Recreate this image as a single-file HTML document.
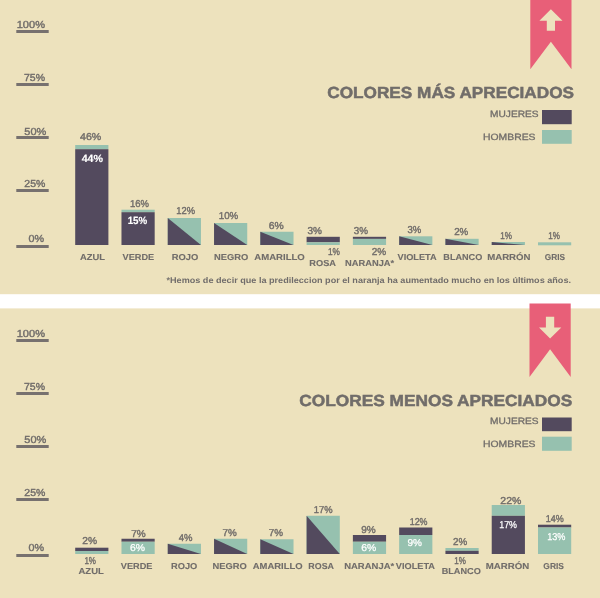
<!DOCTYPE html>
<html lang="es"><head><meta charset="utf-8"><title>Colores más y menos apreciados</title>
<style>
html,body{margin:0;padding:0;background:#fff;}
body{width:600px;height:598px;overflow:hidden;}
svg{display:block;text-rendering:geometricPrecision;font-family:'Liberation Sans', sans-serif;}
</style></head><body>
<svg width="600" height="598" viewBox="0 0 600 598">
<rect x="0.00" y="0.00" width="600.00" height="294.20" fill="#EDE2BD"/>
<rect x="0.00" y="308.40" width="600.00" height="289.60" fill="#EDE2BD"/>
<polygon points="530.30,0.00 571.50,0.00 571.50,69.20 550.90,41.70 530.30,69.20" fill="#E85F78"/>
<polygon points="550.90,9.20 562.50,20.80 555.00,20.80 555.00,30.80 546.80,30.80 546.80,20.80 539.40,20.80" fill="#EDE2BD"/>
<polygon points="529.50,303.50 570.70,303.50 570.70,376.90 550.10,349.20 529.50,376.90" fill="#E85F78"/>
<polygon points="545.90,316.70 554.20,316.70 554.20,327.50 561.30,327.50 550.10,338.50 539.00,327.50 545.90,327.50" fill="#EDE2BD"/>
<rect x="16.30" y="30.00" width="32.40" height="3.00" fill="#77716F"/>
<rect x="16.30" y="83.00" width="32.40" height="3.00" fill="#77716F"/>
<rect x="16.30" y="136.00" width="32.40" height="3.00" fill="#77716F"/>
<rect x="16.30" y="189.00" width="32.40" height="3.00" fill="#77716F"/>
<rect x="16.30" y="245.00" width="32.40" height="3.00" fill="#77716F"/>
<rect x="75.20" y="145.00" width="33.20" height="4.20" fill="#96C1AF"/>
<rect x="75.20" y="149.20" width="33.20" height="95.80" fill="#534A5E"/>
<rect x="121.48" y="209.70" width="33.20" height="2.50" fill="#96C1AF"/>
<rect x="121.48" y="212.20" width="33.20" height="32.80" fill="#534A5E"/>
<rect x="167.76" y="218.00" width="33.20" height="27.00" fill="#96C1AF"/>
<polygon points="167.76,218.00 200.96,245.00 167.76,245.00" fill="#534A5E"/>
<rect x="214.04" y="223.00" width="33.20" height="22.00" fill="#96C1AF"/>
<polygon points="214.04,223.00 247.24,245.00 214.04,245.00" fill="#534A5E"/>
<rect x="260.32" y="231.75" width="33.20" height="13.25" fill="#96C1AF"/>
<polygon points="260.32,231.75 293.52,245.00 260.32,245.00" fill="#534A5E"/>
<rect x="306.60" y="236.80" width="33.20" height="5.50" fill="#534A5E"/>
<rect x="306.60" y="242.30" width="33.20" height="2.70" fill="#96C1AF"/>
<rect x="352.88" y="236.80" width="33.20" height="2.10" fill="#534A5E"/>
<rect x="352.88" y="238.90" width="33.20" height="6.10" fill="#96C1AF"/>
<rect x="399.16" y="236.30" width="33.20" height="8.70" fill="#96C1AF"/>
<polygon points="399.16,236.30 432.36,245.00 399.16,245.00" fill="#534A5E"/>
<rect x="445.44" y="238.80" width="33.20" height="6.20" fill="#96C1AF"/>
<polygon points="445.44,238.80 478.64,245.00 445.44,245.00" fill="#534A5E"/>
<rect x="491.72" y="242.00" width="33.20" height="3.00" fill="#96C1AF"/>
<polygon points="491.72,242.00 524.92,245.00 491.72,245.00" fill="#534A5E"/>
<rect x="538.00" y="242.30" width="33.20" height="3.00" fill="#96C1AF"/>
<text x="16.70" y="28.20" font-size="10.2" stroke="#716D6A" stroke-width="0.4" fill="#716D6A" textLength="28.30" lengthAdjust="spacingAndGlyphs">100%</text>
<text x="16.70" y="336.90" font-size="10.2" stroke="#716D6A" stroke-width="0.4" fill="#716D6A" textLength="28.30" lengthAdjust="spacingAndGlyphs">100%</text>
<text x="24.00" y="81.40" font-size="10.2" stroke="#716D6A" stroke-width="0.4" fill="#716D6A" textLength="21.00" lengthAdjust="spacingAndGlyphs">75%</text>
<text x="24.00" y="390.10" font-size="10.2" stroke="#716D6A" stroke-width="0.4" fill="#716D6A" textLength="21.00" lengthAdjust="spacingAndGlyphs">75%</text>
<text x="24.30" y="134.50" font-size="10.2" stroke="#716D6A" stroke-width="0.4" fill="#716D6A" textLength="22.00" lengthAdjust="spacingAndGlyphs">50%</text>
<text x="24.30" y="443.20" font-size="10.2" stroke="#716D6A" stroke-width="0.4" fill="#716D6A" textLength="22.00" lengthAdjust="spacingAndGlyphs">50%</text>
<text x="24.30" y="187.20" font-size="10.2" stroke="#716D6A" stroke-width="0.4" fill="#716D6A" textLength="21.00" lengthAdjust="spacingAndGlyphs">25%</text>
<text x="24.30" y="495.90" font-size="10.2" stroke="#716D6A" stroke-width="0.4" fill="#716D6A" textLength="21.00" lengthAdjust="spacingAndGlyphs">25%</text>
<text x="28.40" y="242.10" font-size="10.2" stroke="#716D6A" stroke-width="0.4" fill="#716D6A" textLength="15.60" lengthAdjust="spacingAndGlyphs">0%</text>
<text x="28.40" y="550.80" font-size="10.2" stroke="#716D6A" stroke-width="0.4" fill="#716D6A" textLength="15.60" lengthAdjust="spacingAndGlyphs">0%</text>
<text x="80.00" y="139.70" font-size="10.0" stroke="#716D6A" stroke-width="0.4" fill="#716D6A" textLength="21.30" lengthAdjust="spacingAndGlyphs">46%</text>
<text x="130.00" y="206.60" font-size="10.0" stroke="#716D6A" stroke-width="0.4" fill="#716D6A" textLength="19.00" lengthAdjust="spacingAndGlyphs">16%</text>
<text x="176.25" y="214.25" font-size="10.0" stroke="#716D6A" stroke-width="0.4" fill="#716D6A" textLength="18.75" lengthAdjust="spacingAndGlyphs">12%</text>
<text x="218.75" y="219.25" font-size="10.0" stroke="#716D6A" stroke-width="0.4" fill="#716D6A" textLength="19.50" lengthAdjust="spacingAndGlyphs">10%</text>
<text x="268.75" y="228.75" font-size="10.0" stroke="#716D6A" stroke-width="0.4" fill="#716D6A" textLength="15.00" lengthAdjust="spacingAndGlyphs">6%</text>
<text x="307.50" y="233.75" font-size="10.0" stroke="#716D6A" stroke-width="0.4" fill="#716D6A" textLength="14.50" lengthAdjust="spacingAndGlyphs">3%</text>
<text x="328.00" y="254.50" font-size="10.0" stroke="#716D6A" stroke-width="0.4" fill="#716D6A" textLength="12.00" lengthAdjust="spacingAndGlyphs">1%</text>
<text x="353.75" y="233.75" font-size="10.0" stroke="#716D6A" stroke-width="0.4" fill="#716D6A" textLength="14.25" lengthAdjust="spacingAndGlyphs">3%</text>
<text x="371.75" y="254.50" font-size="10.0" stroke="#716D6A" stroke-width="0.4" fill="#716D6A" textLength="14.50" lengthAdjust="spacingAndGlyphs">2%</text>
<text x="407.50" y="232.50" font-size="10.0" stroke="#716D6A" stroke-width="0.4" fill="#716D6A" textLength="13.80" lengthAdjust="spacingAndGlyphs">3%</text>
<text x="454.20" y="235.30" font-size="10.0" stroke="#716D6A" stroke-width="0.4" fill="#716D6A" textLength="14.10" lengthAdjust="spacingAndGlyphs">2%</text>
<text x="500.30" y="238.80" font-size="10.0" stroke="#716D6A" stroke-width="0.4" fill="#716D6A" textLength="11.70" lengthAdjust="spacingAndGlyphs">1%</text>
<text x="548.30" y="238.80" font-size="10.0" stroke="#716D6A" stroke-width="0.4" fill="#716D6A" textLength="11.70" lengthAdjust="spacingAndGlyphs">1%</text>
<text x="81.70" y="161.70" font-size="10.4" font-weight="bold" stroke="#fff" stroke-width="0.15" fill="#fff" textLength="21.30" lengthAdjust="spacingAndGlyphs">44%</text>
<text x="127.70" y="223.50" font-size="10.4" font-weight="bold" stroke="#fff" stroke-width="0.15" fill="#fff" textLength="19.50" lengthAdjust="spacingAndGlyphs">15%</text>
<text x="80.00" y="260.30" font-size="8.7" font-weight="bold" stroke="#716D6A" stroke-width="0.1" fill="#716D6A" textLength="25.00" lengthAdjust="spacingAndGlyphs">AZUL</text>
<text x="122.50" y="260.30" font-size="8.7" font-weight="bold" stroke="#716D6A" stroke-width="0.1" fill="#716D6A" textLength="31.70" lengthAdjust="spacingAndGlyphs">VERDE</text>
<text x="171.70" y="260.30" font-size="8.7" font-weight="bold" stroke="#716D6A" stroke-width="0.1" fill="#716D6A" textLength="26.60" lengthAdjust="spacingAndGlyphs">ROJO</text>
<text x="214.00" y="260.30" font-size="8.7" font-weight="bold" stroke="#716D6A" stroke-width="0.1" fill="#716D6A" textLength="34.30" lengthAdjust="spacingAndGlyphs">NEGRO</text>
<text x="254.30" y="260.30" font-size="8.7" font-weight="bold" stroke="#716D6A" stroke-width="0.1" fill="#716D6A" textLength="50.50" lengthAdjust="spacingAndGlyphs">AMARILLO</text>
<text x="309.30" y="266.20" font-size="8.7" font-weight="bold" stroke="#716D6A" stroke-width="0.1" fill="#716D6A" textLength="26.70" lengthAdjust="spacingAndGlyphs">ROSA</text>
<text x="345.00" y="265.50" font-size="8.7" font-weight="bold" stroke="#716D6A" stroke-width="0.1" fill="#716D6A" textLength="49.20" lengthAdjust="spacingAndGlyphs">NARANJA*</text>
<text x="397.50" y="260.30" font-size="8.7" font-weight="bold" stroke="#716D6A" stroke-width="0.1" fill="#716D6A" textLength="39.20" lengthAdjust="spacingAndGlyphs">VIOLETA</text>
<text x="443.30" y="260.30" font-size="8.7" font-weight="bold" stroke="#716D6A" stroke-width="0.1" fill="#716D6A" textLength="39.00" lengthAdjust="spacingAndGlyphs">BLANCO</text>
<text x="487.20" y="260.30" font-size="8.7" font-weight="bold" stroke="#716D6A" stroke-width="0.1" fill="#716D6A" textLength="43.30" lengthAdjust="spacingAndGlyphs">MARRÓN</text>
<text x="544.70" y="260.30" font-size="8.7" font-weight="bold" stroke="#716D6A" stroke-width="0.1" fill="#716D6A" textLength="20.30" lengthAdjust="spacingAndGlyphs">GRIS</text>
<text x="327.30" y="98.00" font-size="16" font-weight="bold" stroke="#716D6A" stroke-width="0.5" fill="#716D6A" textLength="246.70" lengthAdjust="spacingAndGlyphs">COLORES MÁS APRECIADOS</text>
<text x="490.00" y="117.10" font-size="9.1" stroke="#716D6A" stroke-width="0.3" fill="#716D6A" textLength="48.60" lengthAdjust="spacingAndGlyphs">MUJERES</text>
<rect x="542.00" y="110.00" width="29.70" height="14.20" fill="#534A5E"/>
<text x="483.00" y="139.70" font-size="9.1" stroke="#716D6A" stroke-width="0.3" fill="#716D6A" textLength="52.50" lengthAdjust="spacingAndGlyphs">HOMBRES</text>
<rect x="542.00" y="130.00" width="29.70" height="13.80" fill="#96C1AF"/>
<text x="166.50" y="282.60" font-size="8.3" font-weight="bold" fill="#716D6B" textLength="404.50" lengthAdjust="spacingAndGlyphs">*Hemos de decir que la predileccion por el naranja ha aumentado mucho en los últimos años.</text>
<rect x="16.30" y="339.00" width="32.40" height="3.00" fill="#77716F"/>
<rect x="16.30" y="392.00" width="32.40" height="3.00" fill="#77716F"/>
<rect x="16.30" y="445.00" width="32.40" height="3.00" fill="#77716F"/>
<rect x="16.30" y="498.00" width="32.40" height="3.00" fill="#77716F"/>
<rect x="16.30" y="554.00" width="32.40" height="3.00" fill="#77716F"/>
<rect x="75.20" y="547.70" width="33.20" height="3.30" fill="#534A5E"/>
<rect x="75.20" y="551.00" width="33.20" height="3.00" fill="#96C1AF"/>
<rect x="121.48" y="538.75" width="33.20" height="3.00" fill="#534A5E"/>
<rect x="121.48" y="541.75" width="33.20" height="12.25" fill="#96C1AF"/>
<rect x="167.76" y="543.75" width="33.20" height="10.25" fill="#96C1AF"/>
<polygon points="167.76,543.75 200.96,554.00 167.76,554.00" fill="#534A5E"/>
<rect x="214.04" y="538.75" width="33.20" height="15.25" fill="#96C1AF"/>
<polygon points="214.04,538.75 247.24,554.00 214.04,554.00" fill="#534A5E"/>
<rect x="260.32" y="539.25" width="33.20" height="14.75" fill="#96C1AF"/>
<polygon points="260.32,539.25 293.52,554.00 260.32,554.00" fill="#534A5E"/>
<rect x="306.60" y="515.75" width="33.20" height="38.25" fill="#96C1AF"/>
<polygon points="306.60,515.75 339.80,554.00 306.60,554.00" fill="#534A5E"/>
<rect x="352.88" y="535.00" width="33.20" height="6.75" fill="#534A5E"/>
<rect x="352.88" y="541.75" width="33.20" height="12.25" fill="#96C1AF"/>
<rect x="399.16" y="527.50" width="33.20" height="7.50" fill="#534A5E"/>
<rect x="399.16" y="535.00" width="33.20" height="19.00" fill="#96C1AF"/>
<rect x="445.44" y="548.00" width="33.20" height="2.80" fill="#96C1AF"/>
<rect x="445.44" y="550.80" width="33.20" height="3.20" fill="#534A5E"/>
<rect x="491.72" y="505.00" width="33.20" height="10.80" fill="#96C1AF"/>
<rect x="491.72" y="515.80" width="33.20" height="38.20" fill="#534A5E"/>
<rect x="538.00" y="524.70" width="33.20" height="2.80" fill="#534A5E"/>
<rect x="538.00" y="527.50" width="33.20" height="26.50" fill="#96C1AF"/>
<text x="82.20" y="544.40" font-size="10.0" stroke="#716D6A" stroke-width="0.4" fill="#716D6A" textLength="14.80" lengthAdjust="spacingAndGlyphs">2%</text>
<text x="84.40" y="564.00" font-size="10.0" stroke="#716D6A" stroke-width="0.4" fill="#716D6A" textLength="11.60" lengthAdjust="spacingAndGlyphs">1%</text>
<text x="131.25" y="537.30" font-size="10.0" stroke="#716D6A" stroke-width="0.4" fill="#716D6A" textLength="14.50" lengthAdjust="spacingAndGlyphs">7%</text>
<text x="178.75" y="541.25" font-size="10.0" stroke="#716D6A" stroke-width="0.4" fill="#716D6A" textLength="13.75" lengthAdjust="spacingAndGlyphs">4%</text>
<text x="222.50" y="535.50" font-size="10.0" stroke="#716D6A" stroke-width="0.4" fill="#716D6A" textLength="14.25" lengthAdjust="spacingAndGlyphs">7%</text>
<text x="268.75" y="535.75" font-size="10.0" stroke="#716D6A" stroke-width="0.4" fill="#716D6A" textLength="14.25" lengthAdjust="spacingAndGlyphs">7%</text>
<text x="313.75" y="513.00" font-size="10.0" stroke="#716D6A" stroke-width="0.4" fill="#716D6A" textLength="18.75" lengthAdjust="spacingAndGlyphs">17%</text>
<text x="361.25" y="532.50" font-size="10.0" stroke="#716D6A" stroke-width="0.4" fill="#716D6A" textLength="14.50" lengthAdjust="spacingAndGlyphs">9%</text>
<text x="409.70" y="524.70" font-size="10.0" stroke="#716D6A" stroke-width="0.4" fill="#716D6A" textLength="17.80" lengthAdjust="spacingAndGlyphs">12%</text>
<text x="453.00" y="544.50" font-size="10.0" stroke="#716D6A" stroke-width="0.4" fill="#716D6A" textLength="14.20" lengthAdjust="spacingAndGlyphs">2%</text>
<text x="454.20" y="563.70" font-size="10.0" stroke="#716D6A" stroke-width="0.4" fill="#716D6A" textLength="11.60" lengthAdjust="spacingAndGlyphs">1%</text>
<text x="500.30" y="503.70" font-size="10.0" stroke="#716D6A" stroke-width="0.4" fill="#716D6A" textLength="21.00" lengthAdjust="spacingAndGlyphs">22%</text>
<text x="545.80" y="522.00" font-size="10.0" stroke="#716D6A" stroke-width="0.4" fill="#716D6A" textLength="18.00" lengthAdjust="spacingAndGlyphs">14%</text>
<text x="130.00" y="551.25" font-size="10" stroke="#fff" stroke-width="0.25" fill="#fff" textLength="15.00" lengthAdjust="spacingAndGlyphs">6%</text>
<text x="361.25" y="551.25" font-size="10" stroke="#fff" stroke-width="0.25" fill="#fff" textLength="15.00" lengthAdjust="spacingAndGlyphs">6%</text>
<text x="407.50" y="545.50" font-size="10" stroke="#fff" stroke-width="0.25" fill="#fff" textLength="14.50" lengthAdjust="spacingAndGlyphs">9%</text>
<text x="499.20" y="528.30" font-size="10" stroke="#fff" stroke-width="0.25" fill="#fff" textLength="17.80" lengthAdjust="spacingAndGlyphs">17%</text>
<text x="547.20" y="539.50" font-size="10" stroke="#fff" stroke-width="0.25" fill="#fff" textLength="18.30" lengthAdjust="spacingAndGlyphs">13%</text>
<text x="78.50" y="574.00" font-size="8.7" font-weight="bold" stroke="#716D6A" stroke-width="0.1" fill="#716D6A" textLength="25.30" lengthAdjust="spacingAndGlyphs">AZUL</text>
<text x="120.80" y="569.30" font-size="8.7" font-weight="bold" stroke="#716D6A" stroke-width="0.1" fill="#716D6A" textLength="31.70" lengthAdjust="spacingAndGlyphs">VERDE</text>
<text x="171.00" y="569.30" font-size="8.7" font-weight="bold" stroke="#716D6A" stroke-width="0.1" fill="#716D6A" textLength="26.30" lengthAdjust="spacingAndGlyphs">ROJO</text>
<text x="212.50" y="569.30" font-size="8.7" font-weight="bold" stroke="#716D6A" stroke-width="0.1" fill="#716D6A" textLength="34.30" lengthAdjust="spacingAndGlyphs">NEGRO</text>
<text x="252.80" y="569.30" font-size="8.7" font-weight="bold" stroke="#716D6A" stroke-width="0.1" fill="#716D6A" textLength="49.80" lengthAdjust="spacingAndGlyphs">AMARILLO</text>
<text x="308.30" y="569.30" font-size="8.7" font-weight="bold" stroke="#716D6A" stroke-width="0.1" fill="#716D6A" textLength="25.70" lengthAdjust="spacingAndGlyphs">ROSA</text>
<text x="344.20" y="569.30" font-size="8.7" font-weight="bold" stroke="#716D6A" stroke-width="0.1" fill="#716D6A" textLength="50.00" lengthAdjust="spacingAndGlyphs">NARANJA*</text>
<text x="395.80" y="569.30" font-size="8.7" font-weight="bold" stroke="#716D6A" stroke-width="0.1" fill="#716D6A" textLength="39.20" lengthAdjust="spacingAndGlyphs">VIOLETA</text>
<text x="441.70" y="573.80" font-size="8.7" font-weight="bold" stroke="#716D6A" stroke-width="0.1" fill="#716D6A" textLength="39.10" lengthAdjust="spacingAndGlyphs">BLANCO</text>
<text x="485.70" y="569.30" font-size="8.7" font-weight="bold" stroke="#716D6A" stroke-width="0.1" fill="#716D6A" textLength="43.50" lengthAdjust="spacingAndGlyphs">MARRÓN</text>
<text x="543.30" y="569.30" font-size="8.7" font-weight="bold" stroke="#716D6A" stroke-width="0.1" fill="#716D6A" textLength="20.70" lengthAdjust="spacingAndGlyphs">GRIS</text>
<text x="299.30" y="405.70" font-size="16" font-weight="bold" stroke="#716D6A" stroke-width="0.5" fill="#716D6A" textLength="273.00" lengthAdjust="spacingAndGlyphs">COLORES MENOS APRECIADOS</text>
<text x="490.00" y="424.20" font-size="9.1" stroke="#716D6A" stroke-width="0.3" fill="#716D6A" textLength="48.60" lengthAdjust="spacingAndGlyphs">MUJERES</text>
<rect x="542.00" y="417.50" width="29.70" height="13.70" fill="#534A5E"/>
<text x="483.00" y="447.00" font-size="9.1" stroke="#716D6A" stroke-width="0.3" fill="#716D6A" textLength="52.50" lengthAdjust="spacingAndGlyphs">HOMBRES</text>
<rect x="542.00" y="436.70" width="29.70" height="14.10" fill="#96C1AF"/>
</svg>
</body></html>
